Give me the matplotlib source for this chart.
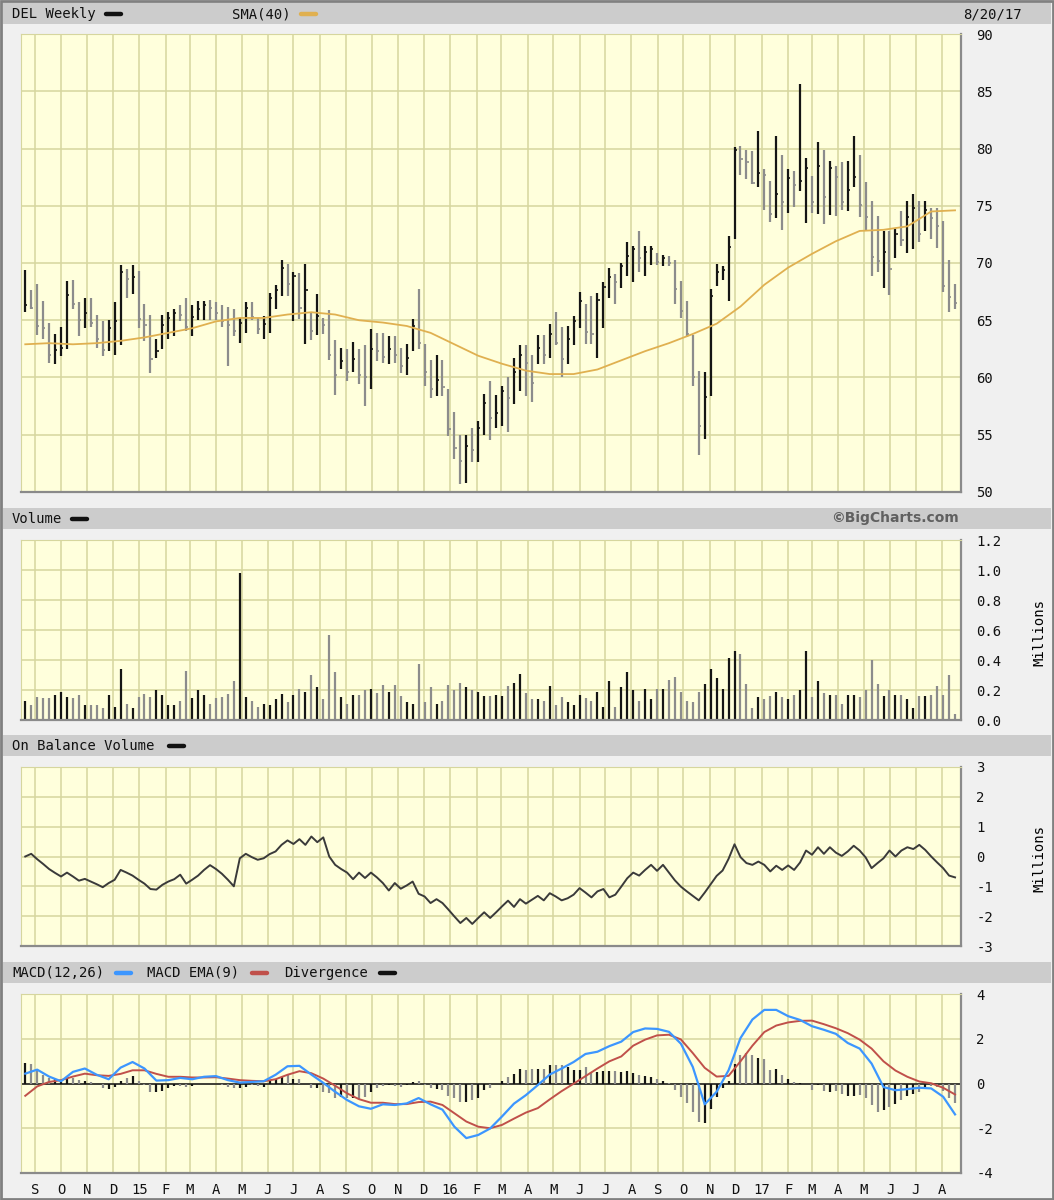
import matplotlib
matplotlib.use('Agg')
import matplotlib.pyplot as plt
from matplotlib.patches import Rectangle
import pandas as pd

plt.rcParams['font.family'] = 'DejaVu Sans Mono'
plt.rcParams['axes.unicode_minus'] = False

# weekly bars, week of 2014-08-18 .. week of 2017-08-14 (drawn mid-week)
weeks = pd.date_range('2014-08-20', periods=157, freq='7D')

highs = [
    69.4, 67.6, 68.2, 66.7, 64.8, 63.8, 64.4, 68.4, 68.5, 66.6,
    66.9, 66.9, 65.5, 64.9, 65.0, 66.6, 69.8, 69.5, 69.8, 69.3,
    66.4, 65.5, 63.4, 65.5, 65.7, 66.0, 66.3, 66.9, 66.3, 66.7,
    66.7, 66.8, 66.6, 66.3, 66.2, 66.0, 65.2, 66.6, 66.6, 65.2,
    65.4, 67.4, 68.1, 70.3, 69.9, 69.2, 69.1, 69.9, 65.6, 67.3,
    65.2, 65.9, 63.3, 62.6, 62.5, 63.1, 62.5, 62.8, 64.2, 63.9,
    63.9, 63.6, 63.6, 62.6, 62.9, 65.1, 67.7, 62.9, 61.5, 62.0,
    61.5, 59.0, 57.0, 55.0, 55.0, 55.6, 56.2, 58.6, 59.7, 58.5,
    59.3, 60.0, 61.7, 62.8, 62.8, 62.0, 63.7, 63.7, 64.7, 65.7,
    64.4, 64.5, 65.4, 67.5, 66.4, 67.1, 67.4, 68.3, 69.6, 69.0,
    70.0, 71.8, 71.5, 72.8, 71.5, 71.5, 70.9, 70.7, 70.6, 70.3,
    68.4, 66.7, 63.7, 60.6, 60.5, 67.7, 69.9, 69.7, 72.4, 80.1,
    80.2, 79.9, 79.8, 81.5, 78.2, 77.2, 81.1, 79.4, 78.2, 78.0,
    85.6, 79.2, 77.6, 80.6, 79.9, 78.9, 78.5, 78.8, 78.9, 81.1,
    79.4, 77.1, 75.4, 74.1, 72.8, 72.8, 73.0, 74.5, 75.4, 76.0,
    75.4, 75.4, 74.8, 74.8, 73.7, 70.3, 68.2]

lows = [
    65.7, 66.0, 63.7, 63.4, 61.3, 61.2, 61.9, 62.5, 66.0, 63.6,
    64.3, 64.4, 62.6, 61.9, 62.3, 62.0, 62.8, 66.9, 67.3, 64.3,
    63.2, 60.4, 61.7, 62.5, 63.4, 63.6, 64.9, 64.1, 63.6, 65.0,
    65.0, 65.0, 65.0, 64.4, 61.0, 63.6, 63.0, 63.9, 65.0, 63.8,
    63.4, 63.9, 66.0, 67.1, 67.1, 64.9, 65.1, 62.9, 63.3, 63.7,
    63.8, 61.5, 58.5, 60.7, 59.7, 60.5, 59.4, 57.5, 59.0, 61.4,
    61.3, 61.2, 61.3, 60.4, 60.2, 62.3, 62.5, 59.3, 58.2, 58.4,
    58.4, 54.9, 52.9, 50.7, 50.8, 52.6, 52.6, 55.0, 54.5, 55.6,
    55.8, 55.2, 57.7, 58.8, 58.4, 57.9, 61.2, 61.2, 61.7, 62.8,
    60.0, 61.2, 62.8, 64.3, 62.9, 62.9, 61.7, 64.3, 66.9, 66.4,
    67.8, 68.9, 68.3, 69.2, 68.9, 69.8, 69.8, 69.7, 69.7, 66.4,
    65.2, 63.5, 59.3, 53.2, 54.6, 58.4, 68.0, 68.5, 66.7, 72.1,
    77.7, 77.3, 76.9, 76.6, 74.6, 73.6, 73.9, 72.9, 74.4, 74.9,
    76.3, 73.5, 74.4, 74.3, 73.4, 74.2, 74.1, 74.6, 74.5, 76.6,
    74.0, 72.9, 68.9, 69.2, 67.8, 67.2, 70.4, 71.5, 70.9, 71.2,
    71.8, 72.8, 72.1, 71.3, 67.5, 65.7, 66.0]

closes = [
    66.3, 66.1, 64.5, 64.3, 62.0, 62.4, 62.6, 67.2, 66.4, 65.0,
    65.6, 64.8, 63.4, 62.4, 64.3, 64.9, 69.2, 68.6, 68.8, 65.1,
    64.6, 61.6, 62.3, 64.6, 65.2, 65.6, 65.5, 64.4, 65.3, 66.0,
    66.3, 66.1, 65.6, 64.9, 64.6, 64.1, 64.8, 66.1, 65.3, 64.2,
    64.7, 66.9, 67.6, 69.6, 68.2, 68.9, 66.1, 67.6, 64.1, 65.4,
    64.6, 62.0, 60.2, 61.4, 60.5, 61.6, 60.2, 60.0, 62.5, 62.3,
    61.8, 62.5, 62.0, 61.0, 61.7, 64.5, 63.0, 60.5, 59.0, 59.8,
    59.2, 55.5, 53.8, 52.7, 54.0, 53.7, 55.6, 57.8, 56.5, 56.9,
    58.8, 58.2, 60.5, 62.0, 61.3, 59.5, 62.6, 62.0, 63.8, 63.0,
    61.6, 63.4, 64.9, 66.7, 64.0, 63.8, 66.8, 67.9, 68.8, 68.3,
    69.7, 70.6, 71.2, 70.4, 71.0, 71.2, 70.1, 70.4, 70.0, 67.7,
    65.8, 63.8, 60.0, 55.8, 58.3, 67.1, 69.2, 69.4, 71.4, 79.9,
    79.1, 78.8, 77.0, 77.9, 77.7, 74.3, 76.0, 75.3, 77.4, 76.8,
    77.2, 78.3, 75.3, 78.5, 75.8, 78.3, 77.5, 75.3, 76.4, 77.5,
    75.1, 74.0, 70.5, 70.2, 71.0, 69.5, 72.5, 72.0, 74.0, 74.8,
    72.5, 74.6, 73.9, 73.2, 68.0, 67.0, 66.5]

# volume, millions of shares
volume = [
    0.13, 0.10, 0.155, 0.145, 0.145, 0.17, 0.19, 0.155, 0.145, 0.165,
    0.10, 0.10, 0.10, 0.08, 0.165, 0.09, 0.34, 0.11, 0.08, 0.155,
    0.175, 0.155, 0.20, 0.165, 0.10, 0.10, 0.13, 0.325, 0.145, 0.20,
    0.165, 0.11, 0.145, 0.155, 0.175, 0.26, 0.98, 0.155, 0.13, 0.09,
    0.11, 0.10, 0.14, 0.175, 0.12, 0.17, 0.21, 0.19, 0.30, 0.22,
    0.14, 0.57, 0.32, 0.155, 0.11, 0.17, 0.17, 0.20, 0.21, 0.18,
    0.235, 0.19, 0.235, 0.16, 0.12, 0.105, 0.375, 0.12, 0.22, 0.11,
    0.13, 0.235, 0.20, 0.25, 0.22, 0.20, 0.19, 0.16, 0.16, 0.165,
    0.16, 0.225, 0.25, 0.31, 0.18, 0.14, 0.14, 0.13, 0.23, 0.10,
    0.155, 0.12, 0.10, 0.165, 0.145, 0.13, 0.19, 0.09, 0.26, 0.09,
    0.22, 0.32, 0.20, 0.13, 0.21, 0.14, 0.21, 0.21, 0.27, 0.29,
    0.19, 0.13, 0.12, 0.19, 0.24, 0.34, 0.28, 0.21, 0.415, 0.46,
    0.44, 0.24, 0.08, 0.155, 0.14, 0.16, 0.19, 0.155, 0.14, 0.17,
    0.20, 0.46, 0.155, 0.26, 0.18, 0.17, 0.17, 0.11, 0.165, 0.17,
    0.155, 0.20, 0.40, 0.24, 0.16, 0.20, 0.17, 0.17, 0.14, 0.08,
    0.16, 0.16, 0.165, 0.23, 0.17, 0.30, 0.04]

# on balance volume, millions
obv = [
    0.00, 0.09, -0.09, -0.25, -0.42, -0.55, -0.67, -0.54, -0.67, -0.81,
    -0.75, -0.84, -0.93, -1.03, -0.89, -0.78, -0.45, -0.54, -0.64, -0.78,
    -0.91, -1.09, -1.11, -0.95, -0.84, -0.76, -0.61, -0.91, -0.78, -0.64,
    -0.45, -0.29, -0.42, -0.58, -0.78, -1.00, -0.06, 0.09, -0.02, -0.11,
    -0.06, 0.08, 0.17, 0.39, 0.54, 0.42, 0.58, 0.39, 0.67, 0.48,
    0.64, 0.00, -0.28, -0.42, -0.54, -0.76, -0.54, -0.72, -0.54, -0.70,
    -0.89, -1.14, -0.89, -1.08, -0.97, -0.84, -1.25, -1.34, -1.56, -1.43,
    -1.56, -1.78, -2.01, -2.23, -2.06, -2.26, -2.06, -1.87, -2.06, -1.87,
    -1.67, -1.48, -1.69, -1.43, -1.58, -1.45, -1.32, -1.47, -1.23, -1.34,
    -1.47, -1.40, -1.28, -1.06, -1.21, -1.37, -1.17, -1.09, -1.37, -1.28,
    -1.01, -0.73, -0.54, -0.64, -0.45, -0.28, -0.48, -0.28, -0.54, -0.80,
    -1.01, -1.17, -1.32, -1.47, -1.21, -0.93, -0.65, -0.47, -0.08, 0.41,
    -0.02, -0.22, -0.28, -0.17, -0.28, -0.50, -0.31, -0.45, -0.30, -0.45,
    -0.20, 0.20, 0.06, 0.31, 0.09, 0.31, 0.13, 0.02, 0.17, 0.36,
    0.20, -0.03, -0.39, -0.22, -0.06, 0.20, 0.00, 0.20, 0.31, 0.25,
    0.39, 0.22, 0.00, -0.20, -0.39, -0.64, -0.70]

# MACD divergence (histogram), weekly
divergence = [
    0.93, 0.89, 0.59, 0.37, 0.25, 0.19, 0.07, 0.19, 0.25, 0.15,
    0.10, 0.07, -0.04, -0.22, -0.25, -0.15, 0.10, 0.25, 0.34, 0.10,
    -0.07, -0.37, -0.40, -0.34, -0.22, -0.12, -0.10, -0.15, -0.10, -0.04,
    -0.01, 0.00, 0.00, -0.07, -0.15, -0.22, -0.19, -0.15, -0.07, -0.10,
    -0.15, 0.10, 0.19, 0.30, 0.40, 0.19, 0.19, 0.00, -0.19, -0.22,
    -0.37, -0.44, -0.64, -0.59, -0.67, -0.67, -0.70, -0.59, -0.37, -0.22,
    -0.12, -0.07, -0.10, -0.15, -0.07, 0.07, 0.13, -0.07, -0.19, -0.25,
    -0.30, -0.55, -0.67, -0.84, -0.84, -0.74, -0.64, -0.30, -0.22, 0.00,
    0.10, 0.30, 0.44, 0.64, 0.59, 0.64, 0.67, 0.64, 0.84, 0.81,
    0.84, 0.74, 0.59, 0.59, 0.74, 0.52, 0.52, 0.55, 0.55, 0.55,
    0.52, 0.55, 0.49, 0.40, 0.34, 0.30, 0.22, 0.12, 0.02, -0.30,
    -0.59, -0.89, -1.26, -1.70, -1.78, -1.14, -0.59, -0.22, 0.10, 0.89,
    1.26, 1.38, 1.26, 1.14, 1.08, 0.59, 0.67, 0.37, 0.19, 0.07,
    0.02, -0.04, -0.30, -0.07, -0.34, -0.37, -0.34, -0.49, -0.55, -0.55,
    -0.52, -0.67, -0.96, -1.26, -1.19, -1.04, -0.93, -0.74, -0.55, -0.49,
    -0.37, -0.19, -0.10, -0.15, -0.34, -0.67, -0.89]

# SMA(40), read every 4th week
sma_weeks = weeks[::4]
sma40 = [
    62.9, 63.0, 62.9, 63.0, 63.2, 63.5, 63.9, 64.3, 64.9, 65.2,
    65.2, 65.5, 65.7, 65.5, 65.0, 64.8, 64.5, 63.9, 62.9, 61.9,
    61.2, 60.6, 60.3, 60.3, 60.7, 61.5, 62.3, 63.0, 63.8, 64.7,
    66.2, 68.1, 69.6, 70.8, 71.9, 72.8, 72.9, 73.2, 74.5, 74.6]

# MACD(12,26) and its EMA(9), read every 2nd week
macd_weeks = weeks[::2]
macd = [
    0.44, 0.62, 0.31, 0.10, 0.52, 0.67, 0.39, 0.19, 0.71, 0.96,
    0.67, 0.13, 0.15, 0.25, 0.19, 0.30, 0.33, 0.15, 0.04, 0.07,
    0.10, 0.39, 0.77, 0.79, 0.40, 0.03, -0.37, -0.74, -1.02, -1.13,
    -0.93, -0.96, -0.89, -0.65, -0.93, -1.17, -1.93, -2.44, -2.30, -2.01,
    -1.47, -0.90, -0.52, -0.07, 0.40, 0.67, 0.96, 1.32, 1.42, 1.67,
    1.87, 2.30, 2.46, 2.44, 2.31, 1.78, 0.74, -0.93, -0.37, 0.59,
    2.03, 2.86, 3.29, 3.29, 3.01, 2.84, 2.56, 2.40, 2.22, 1.81,
    1.56, 0.89, -0.16, -0.30, -0.25, -0.19, -0.22, -0.59, -1.38]
macd_ema = [
    -0.55, -0.13, 0.07, 0.15, 0.31, 0.44, 0.37, 0.34, 0.43, 0.59,
    0.59, 0.43, 0.30, 0.30, 0.27, 0.27, 0.28, 0.22, 0.15, 0.12,
    0.10, 0.19, 0.39, 0.55, 0.46, 0.22, -0.10, -0.44, -0.70, -0.86,
    -0.86, -0.92, -0.92, -0.83, -0.81, -0.96, -1.33, -1.70, -1.93, -2.00,
    -1.85, -1.57, -1.30, -1.10, -0.71, -0.34, -0.01, 0.33, 0.67, 0.99,
    1.21, 1.69, 1.96, 2.15, 2.18, 1.97, 1.36, 0.70, 0.31, 0.34,
    0.99, 1.69, 2.30, 2.59, 2.73, 2.80, 2.81, 2.65, 2.47, 2.25,
    1.96, 1.56, 0.99, 0.58, 0.30, 0.09, 0.01, -0.19, -0.49]

BG = '#f0f0f0'
PLOT_BG = '#ffffdc'
GRID = '#d6d69e'
HEADER = '#cccccc'
UP = '#151515'
DOWN = '#8c8c8c'

W, H = 1054, 1200
fig = plt.figure(figsize=(W / 100, H / 100), dpi=100, facecolor=BG)


def px_rect(x0, y0, x1, y1):
    return [x0 / W, 1 - y1 / H, (x1 - x0) / W, (y1 - y0) / H]


# background layer in pixel coordinates for headers and labels
bg = fig.add_axes([0, 0, 1, 1], zorder=-1)
bg.set_xlim(0, W)
bg.set_ylim(H, 0)
bg.axis('off')
bg.add_patch(Rectangle((1, 1), W - 2, H - 2, fill=False, edgecolor='#808080', lw=2))
for y0, y1 in [(3, 24), (508, 529), (735, 756), (962, 983)]:
    bg.add_patch(Rectangle((3, y0), W - 6, y1 - y0, facecolor=HEADER, edgecolor='none'))


def legend_item(x, y, label, color):
    t = bg.text(x, y, label, fontsize=10, va='center', ha='left', color='#111111')
    return t


def dash(x0, y, color):
    bg.plot([x0, x0 + 15], [y, y], color=color, lw=3.2, solid_capstyle='round')


legend_item(12, 14, 'DEL Weekly', 'k'); dash(106, 14, '#111111')
legend_item(232, 14, 'SMA(40)', 'k'); dash(301, 14, '#e0b050')
bg.text(1022, 14, '8/20/17', fontsize=10, va='center', ha='right', color='#111111')

legend_item(12, 519, 'Volume', 'k'); dash(72, 519, '#111111')
bg.text(959, 518, '\u00a9BigCharts.com', fontsize=10, va='center', ha='right',
        color='#606060', fontweight='bold', family='DejaVu Sans')

legend_item(12, 746, 'On Balance Volume', 'k'); dash(169, 746, '#111111')

legend_item(12, 973, 'MACD(12,26)', 'k'); dash(116, 973, '#3c96ff')
legend_item(147, 973, 'MACD EMA(9)', 'k'); dash(252, 973, '#c0504a')
legend_item(284, 973, 'Divergence', 'k'); dash(380, 973, '#111111')

bg.text(1039, 632, 'Millions', rotation=90, fontsize=10, ha='center', va='center')
bg.text(1039, 859, 'Millions', rotation=90, fontsize=10, ha='center', va='center')

months = pd.date_range('2014-09-01', '2017-08-01', freq='MS')
month_labels = [m.strftime('%y') if m.month == 1 else m.strftime('%b')[0] for m in months]
xmin, xmax = pd.Timestamp('2014-08-15'), pd.Timestamp('2017-08-23')

colors = [UP] + [UP if closes[i] >= closes[i - 1] else DOWN for i in range(1, len(closes))]


def style(ax, ylim, yticks, fmt):
    ax.set_facecolor(PLOT_BG)
    ax.set_xlim(xmin, xmax)
    ax.set_ylim(*ylim)
    ax.set_xticks(months)
    ax.set_yticks(yticks)
    ax.set_yticklabels([fmt.format(v) for v in yticks])
    ax.yaxis.tick_right()
    ax.tick_params(axis='both', length=0, labelsize=10, colors='#111111')
    ax.tick_params(axis='y', pad=11)
    ax.grid(True, color=GRID, lw=1.1)
    ax.set_axisbelow(True)
    for side in ['top', 'left']:
        ax.spines[side].set_color(GRID)
    for side in ['bottom', 'right']:
        ax.spines[side].set_color('#8a8a8a')
        ax.spines[side].set_linewidth(1.6)
    ax.set_xticklabels([])


# price panel
ax_p = fig.add_axes(px_rect(21, 34, 961, 492))
style(ax_p, (50, 90), list(range(50, 91, 5)), '{:d}')
ax_p.vlines(weeks, lows, highs, colors=colors, lw=1.6)
ax_p.hlines(closes, weeks, weeks + pd.Timedelta(days=2.5), colors=colors, lw=1.2)
ax_p.plot(sma_weeks, sma40, color='#e0b050', lw=1.3)

# volume panel
ax_v = fig.add_axes(px_rect(21, 540, 961, 720))
style(ax_v, (0, 1.2), [0, 0.2, 0.4, 0.6, 0.8, 1.0, 1.2], '{:.1f}')
ax_v.vlines(weeks, 0, volume, colors=colors, lw=1.6)

# on balance volume panel
ax_o = fig.add_axes(px_rect(21, 767, 961, 946))
style(ax_o, (-3, 3), [-3, -2, -1, 0, 1, 2, 3], '{:d}')
ax_o.plot(weeks, obv, color='#3a3a3a', lw=1.4)

# MACD panel
ax_m = fig.add_axes(px_rect(21, 994, 961, 1173))
style(ax_m, (-4, 4), [-4, -2, 0, 2, 4], '{:d}')
ax_m.axhline(0, color='#222222', lw=1.2)
ax_m.vlines(weeks, 0, divergence, colors=colors, lw=1.6)
ax_m.plot(macd_weeks, macd_ema, color='#c0504a', lw=1.4)
ax_m.plot(macd_weeks, macd, color='#3c96ff', lw=1.6)
ax_m.set_xticklabels(month_labels)
ax_m.tick_params(axis='x', pad=7)

fig.savefig('out.png', dpi=100, facecolor=BG)
